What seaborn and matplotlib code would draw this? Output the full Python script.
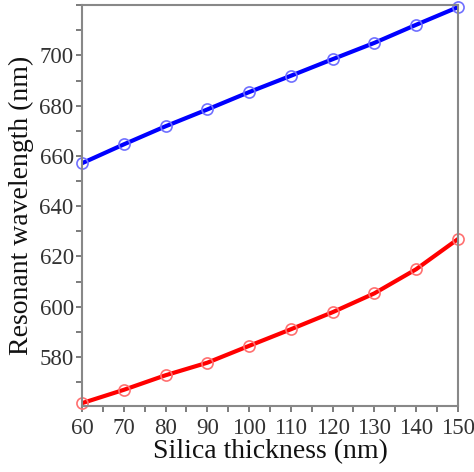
import numpy as np
import pandas as pd
import matplotlib
matplotlib.use('Agg')
import matplotlib.pyplot as plt
import seaborn as sns
from matplotlib.ticker import MultipleLocator

# data
thickness = [60, 70, 80, 90, 100, 110, 120, 130, 140, 150]
blue_nm = [657.1, 664.6, 671.8, 678.5, 685.4, 691.9, 698.5, 705.0, 712.2, 719.2]
red_nm = [561.6, 566.9, 572.7, 577.7, 584.4, 591.0, 597.8, 605.3, 614.9, 626.9]

sns.set_style('ticks')
plt.rcParams['font.family'] = ['Liberation Serif', 'DejaVu Serif']

fig = plt.figure(figsize=(4.74, 4.72), dpi=100)
ax = fig.add_axes([0.173, 0.140, 0.793, 0.849])

df = pd.DataFrame({'x': thickness, 'blue': blue_nm, 'red': red_nm})

# lines
sns.lineplot(x='x', y='blue', data=df, color='#0000ff', lw=3.0, ax=ax)
sns.lineplot(x='x', y='red', data=df, color='#ff0000', lw=3.0, ax=ax)
# open circle markers
ax.plot(df['x'], df['blue'], ls='none', marker='o', ms=8, mfc='none',
        mec='#7070ff', mew=1.2, clip_on=False)
ax.plot(df['x'], df['red'], ls='none', marker='o', ms=8, mfc='none',
        mec='#ff7070', mew=1.2, clip_on=False)

ax.set_xlim(60, 150)
ax.set_ylim(560.5, 720)
ax.xaxis.set_major_locator(MultipleLocator(10))
ax.xaxis.set_minor_locator(MultipleLocator(5))
ax.yaxis.set_minor_locator(MultipleLocator(10))
ax.set_yticks([580, 600, 620, 640, 660, 680, 700])

for s in ax.spines.values():
    s.set_color('#888888')
    s.set_linewidth(1.5)
ax.tick_params(which='both', direction='out', length=4, width=1.2, color='#666666',
               labelsize=16.5, labelcolor='#333333')
ax.tick_params(axis='x', pad=5)
ax.tick_params(axis='y', pad=2)

ax.set_xlabel('Silica thickness (nm)', fontsize=20, color='#111111', labelpad=0)
ax.set_ylabel('Resonant wavelength (nm)', fontsize=20, color='#111111', labelpad=4)

fig.savefig('out.png', dpi=100)
